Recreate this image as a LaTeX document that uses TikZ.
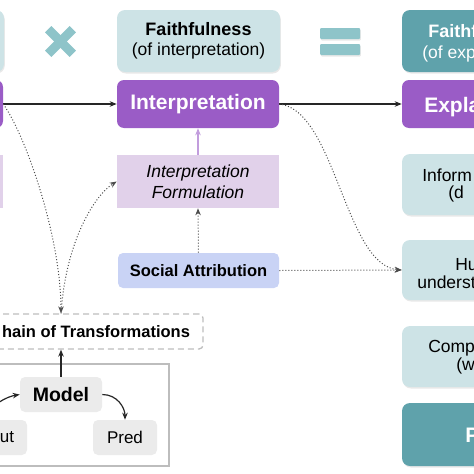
\documentclass[tikz,border=0pt]{standalone}
\usepackage{fontspec}
\setmainfont{Liberation Sans}
\usetikzlibrary{arrows.meta,positioning,calc,shadows}
\definecolor{purp}{HTML}{9A5CC6}
\definecolor{purpL}{HTML}{E1D1EA}
\definecolor{tealL}{HTML}{CDE3E6}
\definecolor{tealD}{HTML}{5FA2AB}
\definecolor{tealS}{HTML}{8EC4C9}
\definecolor{blueL}{HTML}{C9D3F5}
\definecolor{grayL}{HTML}{EBEBEB}
\definecolor{grayB}{HTML}{BDBDBD}
\tikzset{
  >=Stealth,
  every picture/.append style={line width=0.6pt},
}
\newcommand{\fs}[1]{\fontsize{#1}{#1}\selectfont}

\begin{document}
\begin{tikzpicture}[x=1pt, y=-1pt,
  soft/.style={drop shadow={opacity=0.18, shadow xshift=0.8pt, shadow yshift=-1.5pt}},
  lightbox/.style={fill=tealL, rounded corners=8pt, inner sep=0pt, align=center, soft},
  darkbox/.style={fill=tealD, rounded corners=8pt, inner sep=0pt, soft},
  purpbox/.style={fill=purp, rounded corners=7pt, inner sep=0pt, text=white, font=\bfseries\fs{21}},
  formbox/.style={fill=purpL, inner sep=0pt, align=center, font=\itshape\fs{17.5}},
  socbox/.style={fill=blueL, rounded corners=5pt, inner sep=0pt, font=\bfseries\fs{16.5}},
  graybox/.style={fill=grayL, rounded corners=5pt, inner sep=0pt},
  cut/.style={anchor=base west, inner sep=0pt},
  arr/.style={-{Stealth[length=7pt,width=5.5pt]}, line width=1.2pt, draw=black!85},
  purparr/.style={-{Stealth[length=7pt,width=5.5pt]}, line width=1.2pt, draw=purp!60},
  dotarr/.style={-{Stealth[length=7pt,width=5.5pt]}, line width=1pt, dash pattern=on 1pt off 2pt, draw=black!70}
]
\useasboundingbox (0,0) rectangle (474,474);
\clip (0,0) rectangle (474,474);

% left column (cut off)
\node[lightbox, minimum width=154, minimum height=62] (lfaith) at (-73,41) {};
\node[purpbox, minimum width=154, minimum height=48] (lexpl) at (-74,104) {};
\node[formbox, minimum width=154, minimum height=53] (lform) at (-74,181.5) {};

% operators
\draw[tealS, line width=9pt] (48.2,29.2) -- (72.8,53.8);
\draw[tealS, line width=9pt] (48.2,53.8) -- (72.8,29.2);
\fill[tealS, rounded corners=1pt, soft] (320,28) rectangle (360,39);
\fill[tealS, rounded corners=1pt, soft] (320,44) rectangle (360,55);

% middle column
\node[lightbox, minimum width=163, minimum height=62] (faith) at (198.5,41)
  {{\bfseries\fs{18}Faithfulness}\\[6pt]{\fs{17.5}(of interpretation)}};
\node[purpbox, minimum width=162, minimum height=48] (interp) at (198,104) {Interpretation};
\node[formbox, minimum width=162, minimum height=53] (form) at (198,181.5)
  {Interpretation\\[3pt]Formulation};
\node[socbox, minimum width=161, minimum height=35] (social) at (198.5,270.5) {Social Attribution};

% chain and model
\node[draw=grayB, dashed, dash pattern=on 6pt off 4pt, line width=1.3pt, rounded corners=4pt,
  minimum width=214, minimum height=35, inner sep=0pt, font=\bfseries\fs{16.5}] (chain) at (96,331.5)
  {hain of Transformations};
\node[draw=grayB, line width=1.5pt, minimum width=189, minimum height=102, inner sep=0pt] (mbox) at (74.5,415) {};
\node[graybox, minimum width=82, minimum height=35, font=\bfseries\fs{19.5}] (model) at (61,394.5) {Model};
\node[graybox, minimum width=40, minimum height=35, font=\fs{17}] (input) at (7,437.5) {ut};
\node[graybox, minimum width=64, minimum height=35, font=\fs{17}] (pred) at (125,437.5) {Pred};

% right column (cut off)
\node[darkbox, minimum width=158, minimum height=62] (rfaith) at (481,41) {};
\node[purpbox, minimum width=158, minimum height=48] (expl) at (481,104) {};
\node[lightbox, minimum width=158, minimum height=61] (inform) at (481,184.5) {};
\node[lightbox, minimum width=158, minimum height=60] (human) at (481,270) {};
\node[lightbox, minimum width=158, minimum height=61] (comp) at (481,356.5) {};
\node[darkbox, minimum width=158, minimum height=63] (plaus) at (481,434.5) {};

\node[cut, text=white, font=\bfseries\fs{18}] (t1) at (428,37) {Faithf};
\node[cut, text=white, font=\fs{17.5}] (t2) at (422,58) {(of exp};
\node[cut, text=white, font=\bfseries\fs{21}] (t3) at (424,112) {Expla};
\node[cut, font=\fs{17.5}] (t4) at (422,181) {Inform};
\node[cut, font=\fs{17.5}] (t5) at (448,198) {(d};
\node[cut, font=\fs{17.5}] (t6) at (455,270) {Hu};
\node[cut, font=\fs{17.5}] (t7) at (417,288) {underst};
\node[cut, font=\fs{17.5}] (t8) at (428,352) {Comp};
\node[cut, font=\fs{17.5}] (t9) at (456,370) {(w};
\node[cut, text=white, font=\bfseries\fs{21}] (t10) at (465,442) {P};

% main flow
\draw[arr] (lexpl.east) -- (interp.west);
\draw[arr] (interp.east) -- (expl.west);
\draw[purparr] (form.north) -- (interp.south);

% dotted links
\draw[dotarr] (social.north) -- (form.south);
\draw[dotarr] (social.east) -- (human.west);
\draw[dotarr] (interp.east) .. controls (335,110) and (345,265) .. (human.west);
\draw[dotarr] (lexpl.east) .. controls (28,140) and (61,240) .. (model |- chain.north);
\draw[dotarr] (model |- chain.north) .. controls (66,240) and (95,195) .. (form.west);

% model flow
\draw[arr] (model.north) -- (model |- chain.south);
\draw[arr] (input.north west) .. controls +(2,-15) and +(-12,2) .. (model.west);
\draw[arr] (model.east) .. controls +(15,0) and +(0,-12) .. (pred.north);
\end{tikzpicture}
\end{document}
